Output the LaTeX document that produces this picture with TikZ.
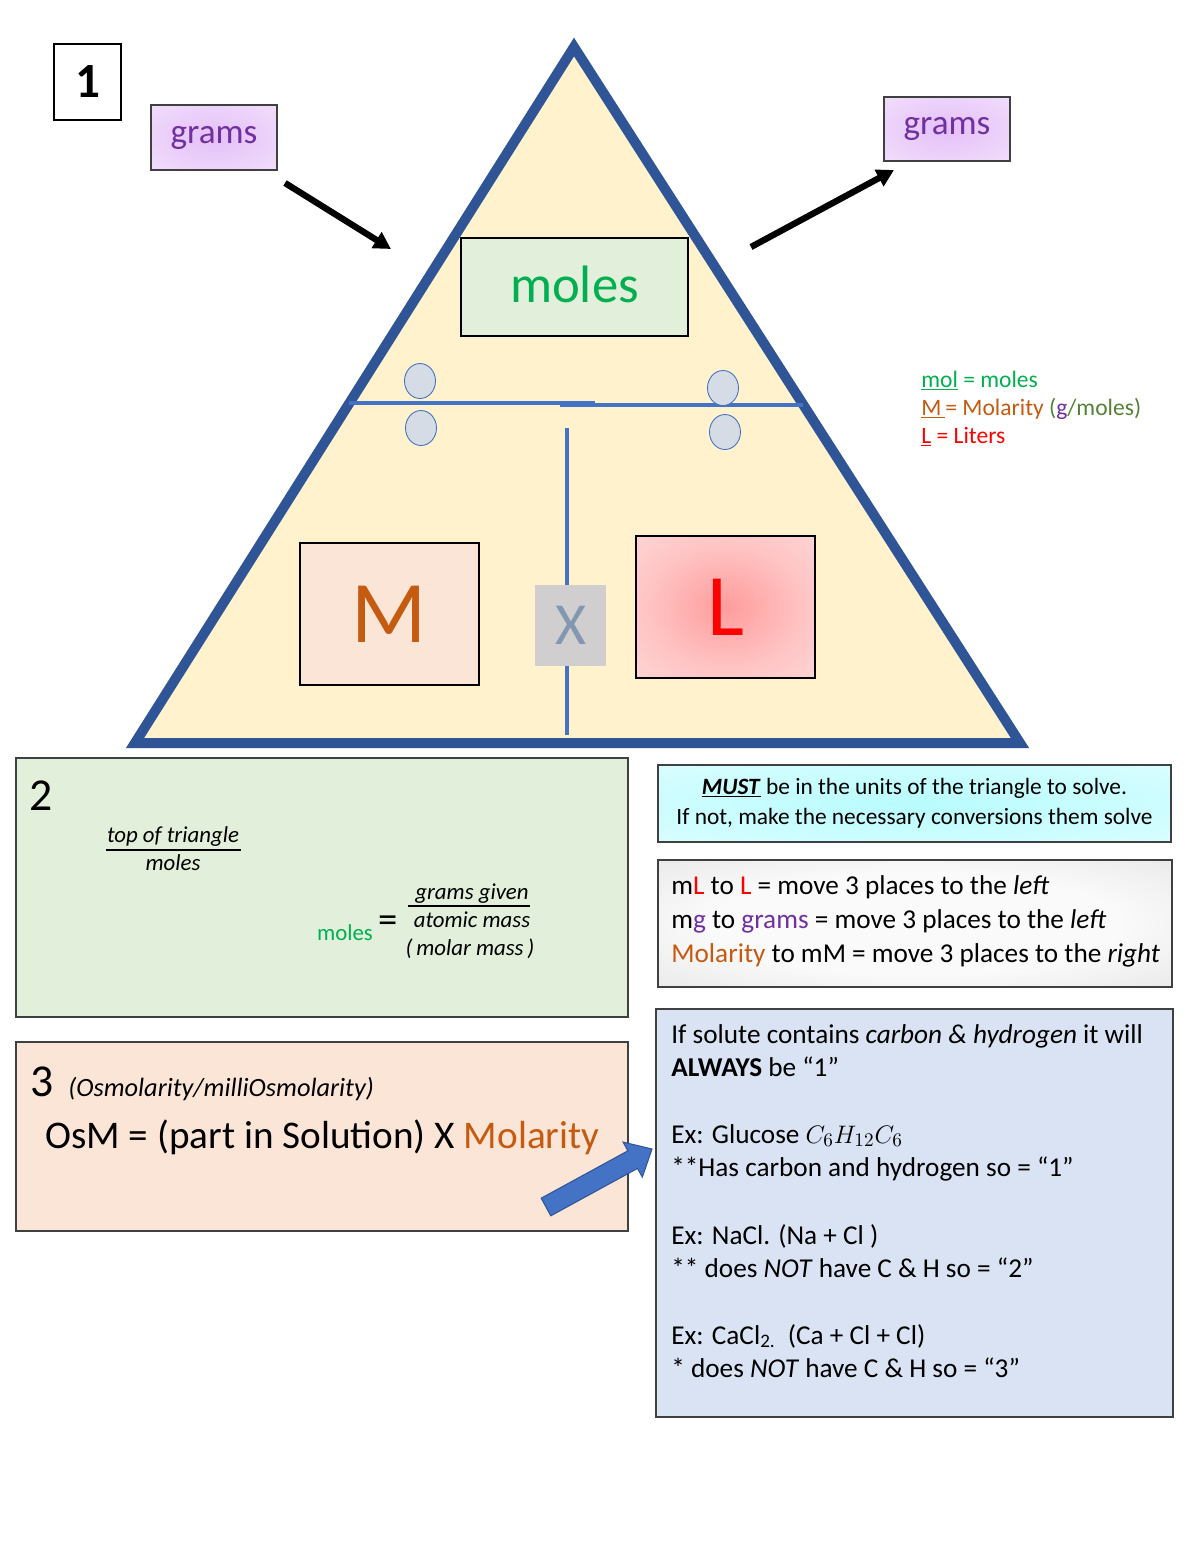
\documentclass[tikz,border=0pt]{standalone}
\usepackage{fontspec}
\setmainfont{Carlito}
\usetikzlibrary{arrows.meta,shapes.geometric}
\definecolor{triedge}{HTML}{2F5597}
\definecolor{trifill}{HTML}{FFF2CC}
\definecolor{lineblue}{HTML}{4472C4}
\definecolor{ovalfill}{HTML}{D6DCE5}
\definecolor{molgreen}{HTML}{00B050}
\definecolor{boxgreen}{HTML}{E2EFDA}
\definecolor{peach}{HTML}{FBE5D6}
\definecolor{orng}{HTML}{C55A11}
\definecolor{xgray}{HTML}{D0CECE}
\definecolor{xtext}{HTML}{8497B0}
\definecolor{purp}{HTML}{7030A0}
\definecolor{dkgrn}{HTML}{548235}
\definecolor{paleblue}{HTML}{DAE3F3}
\definecolor{brd}{HTML}{404040}
\definecolor{Lin}{HTML}{FF9C9C}
\definecolor{Lmid}{HTML}{FFC4C4}
\definecolor{Lout}{HTML}{FFE2E2}
\definecolor{Gin}{HTML}{E4BFF8}
\definecolor{Gout}{HTML}{F5E6FC}
\definecolor{Cin}{HTML}{B8FCFE}
\definecolor{Cout}{HTML}{E4FEFF}
\definecolor{Vin}{HTML}{FAFAFA}
\definecolor{Vout}{HTML}{D6D6D6}
\pgfdeclareradialshading{Lshade}{\pgfpoint{0bp}{0bp}}{color(0bp)=(Lin); color(22bp)=(Lmid); color(48bp)=(Lout); color(75bp)=(Lout)}
\pgfdeclareradialshading{Gshade}{\pgfpoint{0bp}{0bp}}{color(0bp)=(Gin); color(45bp)=(Gout); color(75bp)=(Gout)}
\pgfdeclareradialshading{Cshade}{\pgfpoint{0bp}{0bp}}{color(0bp)=(Cin); color(48bp)=(Cout); color(75bp)=(Cout)}
\pgfdeclareradialshading{Vshade}{\pgfpoint{0bp}{0bp}}{color(0bp)=(Vin); color(20bp)=(Vin); color(55bp)=(Vout); color(75bp)=(Vout)}
\newcommand\fsz[2]{\fontsize{#1}{#2}\selectfont}
\begin{document}
\begin{tikzpicture}[x=0.02cm,y=-0.02cm,
  bx/.style 2 args={rectangle,inner sep=0pt,minimum width={#1*0.02cm},minimum height={#2*0.02cm}},
  frame/.style={draw=brd,line width=0.8pt},
  oval/.style={ellipse,draw=lineblue,fill=ovalfill,line width=0.5pt,minimum width={31*0.02cm},minimum height={35*0.02cm},inner sep=0pt},
  blk/.style={line width=3.6pt,-{Triangle[length=0.34cm,width=0.36cm]}},
  txt/.style={anchor=base west,inner sep=0pt},
  ctxt/.style={anchor=base,inner sep=0pt}]
\useasboundingbox (0,0) rectangle (1200,1553);
\fill[white] (0,0) rectangle (1200,1553);

% triangle
\coordinate (apex) at (574,47);
\coordinate (bl) at (135,743);
\coordinate (br) at (1020,743);
\draw[triedge,fill=trifill,line width=5.7pt,line join=miter] (apex) -- (bl) -- (br) -- cycle;

% inner lines
\coordinate (hl1) at (349,403);
\coordinate (hm1) at (595,403);
\coordinate (hm2) at (560,405);
\coordinate (hr2) at (803,405);
\coordinate (vt) at (567,428);
\coordinate (vb) at (567,735);
\draw[lineblue,line width=2.3pt] (hl1) -- (hm1);
\draw[lineblue,line width=2.3pt] (hm2) -- (hr2);
\draw[lineblue,line width=2.3pt] (vt) -- (vb);

% ovals
\node[oval] (o1) at (420,381) {};
\node[oval] (o2) at (421,428) {};
\node[oval] (o3) at (723,388) {};
\node[oval] (o4) at (725,432) {};

% boxes in triangle
\node[bx={227}{98},draw=black,line width=0.8pt,fill=boxgreen,text=molgreen,font=\fsz{30pt}{36pt}] (moles) at (574.5,287) {\raisebox{0.12cm}{moles}};
\node[bx={179}{142},draw=black,line width=0.8pt,fill=peach,text=orng,font=\fsz{50pt}{60pt}] (M) at (389.5,614) {M};
\node[bx={71}{81},fill=xgray,text=xtext,font=\fsz{34pt}{40pt}] (X) at (570.5,625.5) {\raisebox{-0.2cm}{X}};
\node[bx={179}{142},draw=black,line width=0.8pt,shading=Lshade,text=red,font=\fsz{50pt}{60pt}] (L) at (725.5,607) {L};

% 1 and grams
\node[bx={67}{76},draw=black,line width=0.8pt,fill=white,font=\bfseries\fsz{28pt}{34pt}] (one) at (87.5,82) {1};
\node[bx={126}{65},draw=brd,line width=0.8pt,shading=Gshade,text=purp,font=\fsz{20pt}{24pt}] (gramsL) at (214,137.5) {grams};
\node[bx={126}{64},draw=brd,line width=0.8pt,shading=Gshade,text=purp,font=\fsz{20pt}{24pt}] (gramsR) at (947,129) {grams};

\coordinate (aLs) at (285,183);
\coordinate (aLe) at (391,249);
\coordinate (aRs) at (751,247);
\coordinate (aRe) at (894,170);
\draw[blk] (aLs) -- (aLe);
\draw[blk] (aRs) -- (aRe);

% legend
\node[txt,font=\fsz{13.4pt}{16pt},text=molgreen] (leg1) at (921,387) {\underline{mol} = moles};
\node[txt,font=\fsz{13.4pt}{16pt},text=orng] (leg2) at (921,415) {\underline{M\,}= Molarity {\color{dkgrn}(}{\color{purp}g}{\color{dkgrn}/moles)}};
\node[txt,font=\fsz{13.4pt}{16pt},text=red] (leg3) at (921,443) {\underline{L} = Liters};

% box 2
\node[bx={612}{259},frame,fill=boxgreen] (box2) at (322,887.5) {};
\node[ctxt,font=\fsz{26pt}{30pt}] (two) at (41,810) {2};
\node[ctxt,font=\itshape\fsz{13pt}{15pt}] (f1n) at (173,842) {top of triangle};
\coordinate (b1l) at (106,850);
\coordinate (b1r) at (241,850);
\draw[line width=1.2pt] (b1l) -- (b1r);
\node[ctxt,font=\itshape\fsz{13pt}{15pt}] (f1d) at (173,870) {moles};
\node[ctxt,font=\fsz{13pt}{15pt},text=molgreen] (mol2) at (345,940) {moles};
\node[ctxt,font=\fsz{22pt}{26pt}] (eq2) at (388,932) {=};
\node[ctxt,font=\itshape\fsz{13pt}{15pt}] (f2n) at (472,899) {grams given};
\coordinate (b2l) at (408,906);
\coordinate (b2r) at (530,906);
\draw[line width=1.2pt] (b2l) -- (b2r);
\node[ctxt,font=\itshape\fsz{13pt}{15pt}] (f2d) at (472,927) {atomic mass};
\node[ctxt,font=\itshape\fsz{13pt}{15pt}] (f2e) at (470,955) {(\,molar mass\,)};

% box 3
\node[bx={612}{189},frame,fill=peach] (box3) at (322,1136.5) {};
\node[ctxt,font=\fsz{26pt}{30pt}] (three) at (42,1096) {3};
\node[txt,font=\itshape\fsz{15pt}{18pt}] (osm) at (68,1096) {(Osmolarity/milliOsmolarity)};
\node[txt,font=\fsz{22.3pt}{26pt}] (osmf) at (45,1148) {OsM = (part in Solution) X {\color{orng}Molarity}};

% blue block arrow
\fill[lineblue,draw=triedge,line width=0.6pt] (550.8,1215.8) -- (637.5,1168.4) -- (642.3,1177.1) -- (652,1149) -- (623.1,1142.1) -- (627.9,1150.8) -- (541.2,1198.2) -- cycle;

% MUST box
\node[bx={513}{77},frame,shading=Cshade] (must) at (914.5,803.5) {};
\node[ctxt,font=\fsz{13.3pt}{16pt}] (must1) at (914.5,794) {\underline{\textbf{\textit{MUST}}} be in the units of the triangle to solve.};
\node[ctxt,font=\fsz{13.3pt}{16pt}] (must2) at (914.5,824) {If not, make the necessary conversions them solve};

% conversion box
\node[bx={514}{127},frame,shading=Vshade] (conv) at (915,923.5) {};
\node[txt,font=\fsz{15.5pt}{18pt}] (c1) at (671,894) {m{\color{red}L} to {\color{red}L} = move 3 places to the \textit{left}};
\node[txt,font=\fsz{15.5pt}{18pt}] (c2) at (671,928) {m{\color{purp}g} to {\color{purp}grams} = move 3 places to the \textit{left}};
\node[txt,font=\fsz{15.5pt}{18pt}] (c3) at (671,962) {{\color{orng}Molarity} to mM = move 3 places to the \textit{right}};

% blue box
\node[bx={517}{408},frame,fill=paleblue] (blue) at (914.5,1213) {};
\node[txt,font=\fsz{15.5pt}{18pt}] (t1) at (671,1043) {If solute contains \textit{carbon \& hydrogen} it will};
\node[txt,font=\fsz{15.5pt}{18pt}] (t2) at (671,1076) {\textbf{ALWAYS} be “1”};
\node[txt,font=\fsz{15.5pt}{18pt}] (t3) at (671,1143) {Ex: Glucose $C_6H_{12}C_6$};
\node[txt,font=\fsz{15.5pt}{18pt}] (t4) at (671,1176) {**Has carbon and hydrogen so = “1”};
\node[txt,font=\fsz{15.5pt}{18pt}] (t5) at (671,1244) {Ex: NaCl. (Na + Cl )};
\node[txt,font=\fsz{15.5pt}{18pt}] (t6) at (671,1277) {** does \textit{NOT} have C \& H so = “2”};
\node[txt,font=\fsz{15.5pt}{18pt}] (t7) at (671,1344) {Ex: CaCl\textsubscript{2.}\ \ (Ca + Cl + Cl)};
\node[txt,font=\fsz{15.5pt}{18pt}] (t8) at (671,1377) {* does \textit{NOT} have C \& H so = “3”};
\end{tikzpicture}
\end{document}
